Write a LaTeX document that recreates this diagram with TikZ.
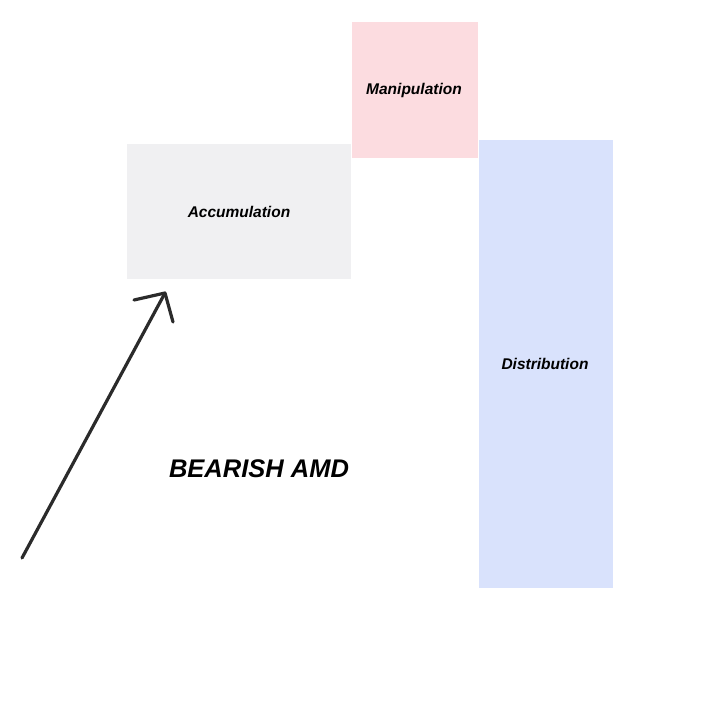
\documentclass[tikz,border=0pt]{standalone}
\usepackage{fontspec}
\setmainfont{Liberation Sans}
\definecolor{accfill}{HTML}{F0F0F2}
\definecolor{manfill}{HTML}{FCDCE0}
\definecolor{disfill}{HTML}{D9E2FC}
\definecolor{arr}{HTML}{2B2B2B}
\begin{document}
\begin{tikzpicture}[x=1pt,y=-1pt,
  box/.style={draw=none,inner sep=0pt,font=\bfseries\itshape\fontsize{15.5}{18}\selectfont},
  arrline/.style={draw=arr,line width=3.2pt,line cap=round,line join=round}]
\useasboundingbox (0,0) rectangle (717,709);
\fill[accfill] (127,144) rectangle (351,279);
\node[box] (acc) at (239,211.5) {Accumulation};
\fill[manfill] (352,22) rectangle (478,158);
\node[box] (man) at (414,90) {Manipulation};
\fill[disfill] (479,140) rectangle (613,588);
\node[box] (dis) at (545,364) {Distribution};
\node[font=\bfseries\itshape\fontsize{25.5}{30}\selectfont] (title) at (259,469) {BEARISH AMD};
\coordinate (s) at (22,558);
\coordinate (t) at (165,293);
\draw[arrline] (s) -- (t);
\draw[arrline] (134,300) -- (t) -- (173,322);
\end{tikzpicture}
\end{document}
